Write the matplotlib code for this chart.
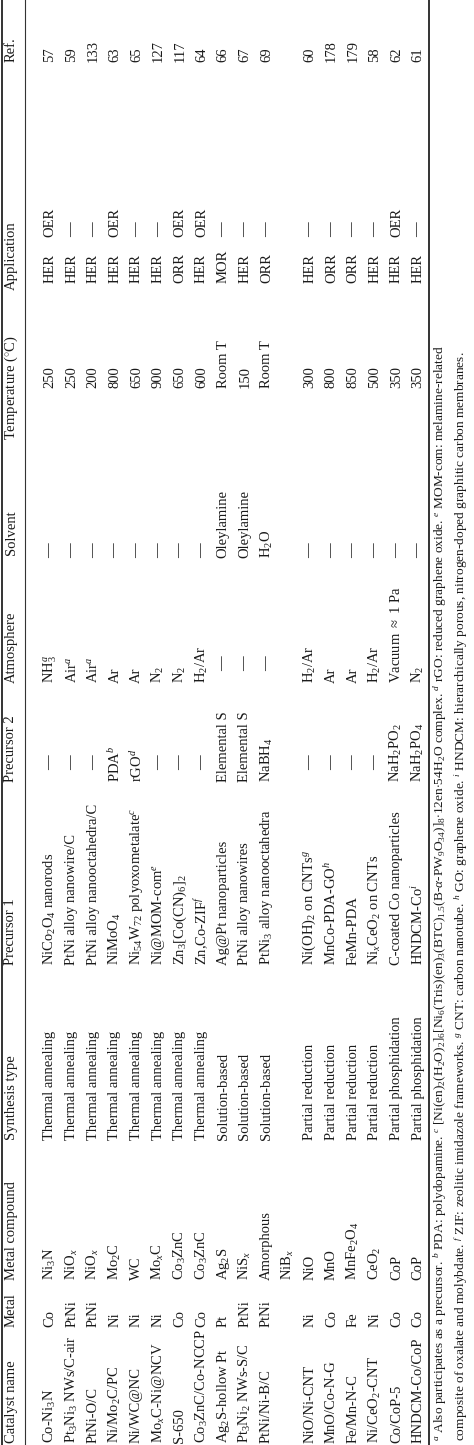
import matplotlib
matplotlib.use("Agg")
import matplotlib.pyplot as plt
from matplotlib.lines import Line2D

plt.rcParams['font.family'] = ['Liberation Serif', 'DejaVu Serif']
plt.rcParams['mathtext.fontset'] = 'custom'
plt.rcParams['mathtext.rm'] = 'Liberation Serif'
plt.rcParams['mathtext.it'] = 'Liberation Serif:italic'

D = '—'
headers = ['Catalyst name', 'Metal', 'Metal compound', 'Synthesis type', 'Precursor 1',
           'Precursor 2', 'Atmosphere', 'Solvent', 'Temperature ($^{\\circ}$C)', 'Application', 'Ref.']
catalyst = ['Co-Ni$_3$N', 'Pt$_3$Ni$_3$ NWs/C-air', 'PtNi-O/C', 'Ni/Mo$_2$C/PC', 'Ni/WC@NC',
            'Mo$_x$C-Ni@NCV', 'S-650', 'Co$_3$ZnC/Co-NCCP', 'Ag$_2$S-hollow Pt', 'Pt$_3$Ni$_2$ NWs-S/C',
            'PtNi/Ni-B/C', '', 'NiO/Ni-CNT', 'MnO/Co-N-G', 'Fe/Mn-N-C', 'Ni/CeO$_2$-CNT', 'Co/CoP-5',
            'HNDCM-Co/CoP']
metal = ['Co', 'PtNi', 'PtNi', 'Ni', 'Ni', 'Ni', 'Co', 'Co', 'Pt', 'PtNi', 'PtNi', '',
         'Ni', 'Co', 'Fe', 'Ni', 'Co', 'Co']
compound = ['Ni$_3$N', 'NiO$_x$', 'NiO$_x$', 'Mo$_2$C', 'WC', 'Mo$_x$C', 'Co$_3$ZnC', 'Co$_3$ZnC',
            'Ag$_2$S', 'NiS$_x$', 'Amorphous', 'NiB$_x$', 'NiO', 'MnO', 'MnFe$_2$O$_4$', 'CeO$_2$',
            'CoP', 'CoP']
synthesis = ['Thermal annealing'] * 8 + ['Solution-based'] * 3 + [''] + \
            ['Partial reduction'] * 4 + ['Partial phosphidation'] * 2
precursor1 = ['NiCo$_2$O$_4$ nanorods', 'PtNi alloy nanowire/C', 'PtNi alloy nanooctahedra/C',
              'NiMoO$_4$', 'Ni$_{54}$W$_{72}$ polyoxometalate$^c$', 'Ni@MOM-com$^e$',
              'Zn$_3$[Co(CN)$_6$]$_2$', 'Zn,Co-ZIF$^f$', 'Ag@Pt nanoparticles', 'PtNi alloy nanowires',
              'PtNi$_3$ alloy nanooctahedra', '', 'Ni(OH)$_2$ on CNTs$^g$', 'MnCo-PDA-GO$^h$',
              'FeMn-PDA', 'Ni$_x$CeO$_2$ on CNTs', 'C-coated Co nanoparticles', 'HNDCM-Co$^i$']
precursor2 = [D, D, D, 'PDA$^b$', 'rGO$^d$', D, D, D, 'Elemental S', 'Elemental S', 'NaBH$_4$', '',
              D, D, D, D, 'NaH$_2$PO$_2$', 'NaH$_2$PO$_4$']
atmosphere = ['NH$_3^a$', 'Air$^a$', 'Air$^a$', 'Ar', 'Ar', 'N$_2$', 'N$_2$', 'H$_2$/Ar', D, D, D, '',
              'H$_2$/Ar', 'Ar', 'Ar', 'H$_2$/Ar', 'Vacuum $\\approx$ 1 Pa', 'N$_2$']
solvent = [D] * 8 + ['Oleylamine', 'Oleylamine', 'H$_2$O', ''] + [D] * 6
temperature = ['250', '250', '200', '800', '650', '900', '650', '600', 'Room T', '150', 'Room T', '',
               '300', '800', '850', '500', '350', '350']
app1 = ['HER', 'HER', 'HER', 'HER', 'HER', 'HER', 'ORR', 'HER', 'MOR', 'HER', 'ORR', '',
        'HER', 'ORR', 'ORR', 'HER', 'HER', 'HER']
app2 = ['OER', D, D, 'OER', D, D, 'OER', 'OER', D, D, D, '', D, D, D, D, 'OER', D]
ref = ['57', '59', '133', '63', '65', '127', '117', '64', '66', '67', '69', '',
       '60', '178', '179', '58', '62', '61']
footnotes = [
    '$^a$ Also participates as a precursor. $^b$ PDA: polydopamine. $^c$ [Ni(en)$_2$(H$_2$O)$_2$]$_6$'
    '[Ni$_6$(Tris)(en)$_3$(BTC)$_{1.5}$(B-$\\alpha$-PW$_9$O$_{34}$)]$_8$$\\cdot$12en$\\cdot$54H$_2$O complex. '
    '$^d$ rGO: reduced graphene oxide. $^e$ MOM-com: melamine-related',
    'composite of oxalate and molybdate. $^f$ ZIF: zeolitic imidazole frameworks. $^g$ CNT: carbon nanotube. '
    '$^h$ GO: graphene oxide. $^i$ HNDCM: hierarchically porous, nitrogen-doped graphitic carbon membranes.']

W, H = 474, 1445
fig = plt.figure(figsize=(W / 100, H / 100), dpi=100)
fs = 10.5

def put(x, y, s, size=fs):
    if s:
        fig.text(x / W, 1 - y / H, s, rotation=90, rotation_mode='anchor',
                 ha='left', va='center', fontsize=size, color='#1a1a1a')

header_y = [1443, 1327, 1280, 1140, 965, 782, 683, 555, 440, 290, 62]
col_y = [1443, 1327, 1280, 1140, 965, 782, 683, 558, 388, 283, 62]
app2_y = 237
for hy, h in zip(header_y, headers):
    put(W - 463, hy, h)

cols = [catalyst, metal, compound, synthesis, precursor1, precursor2, atmosphere, solvent,
        temperature, app1, ref]
x0, dx = 424, 21.65
for i in range(len(catalyst)):
    x = W - (x0 - i * dx)
    for cy, col in zip(col_y, cols):
        s = col[i]
        if s == D and cy in (782, 683):
            put(x, cy - 12, s)
        else:
            put(x, cy, s)
    put(x, app2_y, app2[i])

put(W - 34, 1441, footnotes[0], size=9.6)
put(W - 13, 1441, footnotes[1], size=9.6)

for xp, lw in [(472, 1.4), (449, 0.8), (45, 1.4)]:
    fig.add_artist(Line2D([(W - xp) / W] * 2, [0.0, 1.0], transform=fig.transFigure,
                          color='#333333', lw=lw))

fig.savefig('out.png', dpi=100)
